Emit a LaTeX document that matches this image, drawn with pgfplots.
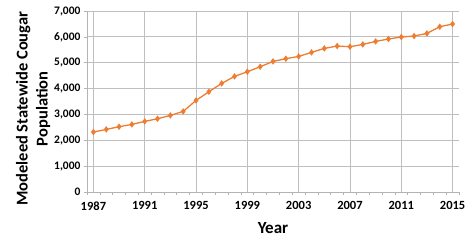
\documentclass[border=0pt]{standalone}
\usepackage{pgfplots}
\pgfplotsset{compat=1.18}
\usepackage{fontspec}
\setmainfont{Carlito}
\definecolor{line}{RGB}{237,125,49}
\definecolor{grid}{RGB}{205,205,205}
\definecolor{axgray}{RGB}{180,180,180}
\begin{document}
\begin{tikzpicture}
\begin{axis}[
  scale only axis, width=372pt, height=181pt,
  xmin=1986.5, xmax=2015.5, ymin=0, ymax=7000,
  xtick={1987,1991,...,2015},
  minor xtick={1986.5,1987.5,...,2015.5},
  ytick={0,1000,...,7000},
  major x tick style={draw=none},
  minor x tick style={axgray, line width=0.6pt},
  minor tick length=3pt,
  y tick style={axgray, line width=0.6pt},
  major tick length=3pt,
  tick align=outside,
  xtick pos=bottom, ytick pos=left,
  ymajorgrids, grid style={grid, line width=0.8pt},
  axis x line*=bottom, axis y line*=left,
  axis line style={axgray, line width=0.8pt},
  x axis line style={-}, y axis line style={-},
  /pgf/number format/assume math mode=true,
  /pgf/number format/1000 sep={,},
  xticklabel style={/pgf/number format/1000 sep={}, font=\bfseries\fontsize{12.5}{14}\selectfont, yshift=-3pt},
  yticklabel style={font=\bfseries\fontsize{11.5}{13}\selectfont},
  xlabel={Year},
  xlabel style={font=\bfseries\fontsize{17}{18}\selectfont, yshift=-5pt},
  ylabel={Modeleed Statewide Cougar\\Population},
  ylabel style={align=center, font=\bfseries\fontsize{16.5}{20}\selectfont, at={(axis description cs:-0.145,0.46)}, anchor=center},
  clip=false,
]
\addplot[color=line, line width=1.3pt, mark=diamond*, mark size=2.2pt, mark options={fill=line, draw=line}] coordinates {
(1987,2320) (1988,2420) (1989,2525) (1990,2614) (1991,2730) (1992,2834)
(1993,2962) (1994,3117) (1995,3542) (1996,3878) (1997,4200) (1998,4470)
(1999,4652) (2000,4845) (2001,5050) (2002,5155) (2003,5244) (2004,5399)
(2005,5553) (2006,5646) (2007,5618) (2008,5708) (2009,5824) (2010,5917)
(2011,5994) (2012,6032) (2013,6134) (2014,6392) (2015,6497)
};
\end{axis}
\path (current axis.south west) ++(-87pt,-58pt) rectangle ++(474pt,250pt);
\end{tikzpicture}
\end{document}
